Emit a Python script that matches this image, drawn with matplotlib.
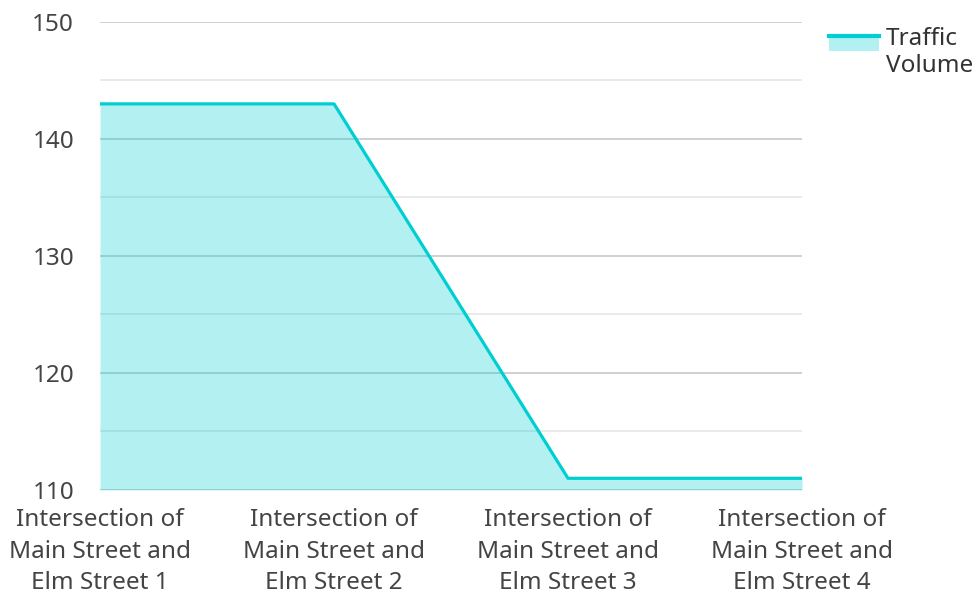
import matplotlib.pyplot as plt
from matplotlib.patches import Rectangle
from matplotlib.lines import Line2D
from matplotlib.legend_handler import HandlerBase

# données
intersections = ["Intersection of\nMain Street and\nElm Street 1",
                 "Intersection of\nMain Street and\nElm Street 2",
                 "Intersection of\nMain Street and\nElm Street 3",
                 "Intersection of\nMain Street and\nElm Street 4"]
volume_trafic = [143, 143, 111, 111]
graduations_y = [110, 120, 130, 140, 150]

couleur = "#00CED1"
plt.rcParams['font.family'] = ['Noto Sans', 'DejaVu Sans']


# poignée de légende : aire remplie avec la ligne en haut
class HandlerAire(HandlerBase):
    def create_artists(self, legend, orig_handle, xdescent, ydescent,
                       width, height, fontsize, trans):
        y0 = -ydescent + 7  # aligner avec la première ligne du texte
        rect = Rectangle((-xdescent, y0), width, height,
                         facecolor=couleur, alpha=0.3, edgecolor='none', transform=trans)
        ligne = Line2D([-xdescent, -xdescent + width], [y0 + height] * 2,
                       color=couleur, linewidth=3, transform=trans)
        return [rect, ligne]


fig = plt.figure(figsize=(9.76, 5.94), dpi=100)
ax = fig.add_axes([0.1025, 0.1751, 0.7192, 0.7879])

x = list(range(len(intersections)))
ax.fill_between(x, volume_trafic, 110, color=couleur, alpha=0.3, linewidth=0, zorder=2)
ax.plot(x, volume_trafic, color=couleur, linewidth=2.3, zorder=3)

ax.set_xlim(0, len(intersections) - 1)
ax.set_ylim(110, 150)
ax.set_yticks(graduations_y)
ax.set_yticks([115, 125, 135, 145], minor=True)
ax.set_xticks(x)
ax.set_xticklabels(intersections)

ax.grid(axis='y', which='major', color='#c8c8c8', linewidth=1.2, zorder=1)
ax.grid(axis='y', which='minor', color='#e6e6e6', linewidth=1.2, zorder=1)
ax.set_axisbelow(True)
for s in ax.spines.values():
    s.set_visible(False)

ax.tick_params(axis='both', which='both', length=0, labelsize=17.5, labelcolor='#444444')
ax.tick_params(axis='y', pad=18.7)
ax.tick_params(axis='x', pad=13)
for t in ax.get_xticklabels():
    t.set_linespacing(1.42)

# légende
poignee = object()
fig.legend([poignee], ["Traffic\nVolume"], handler_map={poignee: HandlerAire()},
           loc='upper left', bbox_to_anchor=(0.8267, 0.9916), frameon=False, fontsize=17.5,
           handlelength=2.06, handleheight=0.62, handletextpad=0.3, labelcolor='#333333')

plt.savefig("out.png")
